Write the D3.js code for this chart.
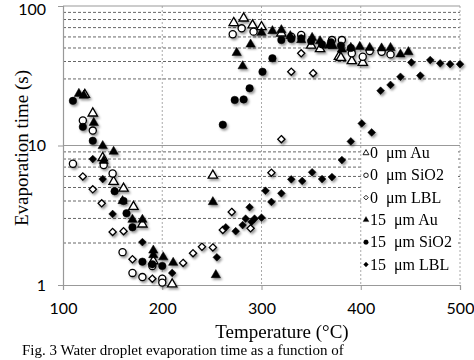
<!DOCTYPE html>
<html><head><meta charset="utf-8">
<script src="https://cdn.jsdelivr.net/npm/d3@7"></script>
<style>body{margin:0;background:#fff} svg{display:block}</style>
</head><body><svg id="c" width="474" height="360"></svg>
<script>
const xTicks=[100,200,300,400,500];
const yTicks=[1,10,100];
const minorGrid=[2,3,4,5,6,7,8,9,30,40,50,60,70,80,90];
const seriesNames=["0  μm Au","0  μm SiO2","0  μm LBL","15  μm Au","15  μm SiO2","15  μm LBL"];
// [temperature °C, evaporation time s]
const au0=[[122,23.5],[130,17.3],[140,8.3],[151,5.6],[161,5.0],[171,3.7],[180,2.77],[191,1.51],[210,1.03],[251,6.2],[272,77],[282,83],[291,74],[300,72],[320,64.8],[350,53],[359,50],[378,44],[380,43.3],[391,41],[402,39.9]];
const sio0=[[110,7.4],[120,15.1],[130,12.8],[141,7.25],[150,6.3],[160,1.72],[170,1.22],[180,1.14],[190,1.37],[200,1.11],[200,1.04],[271,62.7],[280,69.2],[292,65.5],[330,60.2],[340,62],[371,57],[381,57],[391,45.8],[402,43.3],[409,47.6],[421,47],[430,45]];
const lbl0=[[120,6.0],[130,4.85],[139,3.85],[150,2.4],[161,2.43],[170,1.53],[190,1.11],[221,1.44],[231,1.69],[240,1.88],[251,1.86],[261,2.48],[270,3.34],[289,2.55],[310,6.38],[320,11.1],[330,33.8],[340,45.8],[352,33]];
const au15=[[116,23.9],[121,23.2],[131,14.8],[140,10.1],[141,7.9],[151,9.2],[160,4.07],[170,2.99],[180,2.99],[191,1.8],[191,1.67],[201,1.61],[211,1.47],[251,4.0],[254,1.2],[275,47],[281,37.7],[289,54],[300,65.5],[311,67.3],[320,68.4],[329,62],[340,58],[351,60.2],[359,57],[368,53],[372,52.5],[381,49.7],[390,51.1],[399,51.9],[409,51],[421,50.6],[430,51],[440,45.8],[448,47.6]];
const sio15=[[110,20.9],[120,13.6],[130,10.8],[152,4.7],[161,4.0],[164,3.27],[170,2.59],[180,1.47],[190,1.41],[200,1.37],[261,14.1],[273,21.2],[282,21.4],[288,25.7],[301,33.8],[311,42.2],[320,57],[330,58],[340,58.6],[350,56],[361,53],[370,55],[380,52],[390,50]];
const lbl15=[[130,8.0],[140,5.75],[150,3.23],[180,2.03],[210,1.22],[255,1.58],[264,2.59],[274,2.43],[281,2.69],[284,2.99],[288,3.61],[290,2.84],[293,2.99],[300,3.04],[304,4.74],[310,3.94],[320,4.54],[330,5.72],[341,5.57],[351,6.43],[361,5.75],[371,5.94],[381,7.87],[390,10.7],[401,14.4],[411,12.4],[420,24.7],[430,27.2],[440,31.1],[451,39.4],[460,31.7],[470,41],[480,38.8],[490,38.3],[500,38.3]];

const svg=d3.select("#c");
const x=d3.scaleLinear().domain([100,500]).range([63,460]);
const y=d3.scaleLog().domain([1,100]).range([285,6]);

const defs=svg.append("defs");
const f=defs.append("filter").attr("id","sh").attr("x","-50%").attr("y","-50%").attr("width","200%").attr("height","200%");
f.append("feDropShadow").attr("dx",1.5).attr("dy",2).attr("stdDeviation",1.1).attr("flood-color","#000").attr("flood-opacity",0.4);

const serif="'Liberation Serif', 'Times New Roman', serif";
// minor horizontal grid
svg.append("g").selectAll("line").data(minorGrid).join("line")
  .attr("x1",x(100)).attr("x2",x(500)).attr("y1",d=>y(d)).attr("y2",d=>y(d))
  .attr("stroke","#666").attr("stroke-width",1).attr("stroke-dasharray","3,2");
// vertical grid
svg.append("g").selectAll("line").data(xTicks.slice(1)).join("line")
  .attr("x1",d=>x(d)).attr("x2",d=>x(d)).attr("y1",y(100)).attr("y2",y(1))
  .attr("stroke","#aaa").attr("stroke-width",1).attr("stroke-dasharray","2,2");
// major horizontal
svg.append("g").selectAll("line").data([10,100]).join("line")
  .attr("x1",x(100)).attr("x2",x(500)).attr("y1",d=>y(d)).attr("y2",d=>y(d))
  .attr("stroke","#999").attr("stroke-width",1.2);

const fontNum="Lato, 'Open Sans', sans-serif";
const yAxis=svg.append("g").attr("transform",`translate(${x(100)},0)`)
  .call(d3.axisLeft(y).tickValues(yTicks).tickFormat(d3.format("d")).tickSize(5).tickPadding(12));
const xAxis=svg.append("g").attr("transform",`translate(0,${y(1)})`)
  .call(d3.axisBottom(x).tickValues(xTicks).tickFormat(d3.format("d")).tickSize(5).tickPadding(13));
[yAxis,xAxis].forEach(a=>{
  a.select(".domain").attr("stroke","#999").attr("stroke-width",1.2);
  a.selectAll(".tick line").attr("stroke","#999");
  a.selectAll("text").attr("font-family",fontNum).attr("font-size",16).attr("fill","#000");
});
yAxis.selectAll("text").filter(d=>d===100).attr("dy","0.55em");

// markers
const diamond={draw(ctx,size){const r=Math.sqrt(size/2);ctx.moveTo(0,-r);ctx.lineTo(r,0);ctx.lineTo(0,r);ctx.lineTo(-r,0);ctx.closePath();}};
const styles=[
  {data:au0,type:d3.symbolTriangle,size:38,fill:"#fff"},
  {data:sio0,type:d3.symbolCircle,size:40,fill:"#fff"},
  {data:lbl0,type:diamond,size:26,fill:"#fff"},
  {data:au15,type:d3.symbolTriangle,size:38,fill:"#000"},
  {data:sio15,type:d3.symbolCircle,size:44,fill:"#000"},
  {data:lbl15,type:diamond,size:30,fill:"#000"}
];
const pts=svg.append("g").attr("filter","url(#sh)");
styles.forEach(s=>{
  const sym=d3.symbol().type(s.type).size(s.size);
  pts.append("g").selectAll("path").data(s.data).join("path")
    .attr("transform",d=>`translate(${x(d[0])},${y(d[1])+(s.type===d3.symbolTriangle?1:0)})`)
    .attr("d",sym).attr("fill",s.fill).attr("stroke","#000").attr("stroke-width",s.fill==="#fff"?1.3:0.5);
});

// legend
const lg=svg.append("g");
lg.append("rect").attr("x",362).attr("y",146).attr("width",96).attr("height",136).attr("fill","#fff");
seriesNames.forEach((n,i)=>{
  const cy=153+i*22.3;
  const s=styles[i];
  lg.append("path").attr("transform",`translate(366,${cy})`)
    .attr("d",d3.symbol().type(s.type).size(s.size*0.4)()).attr("fill",s.fill).attr("stroke","#000").attr("stroke-width",s.fill==="#fff"?0.9:0.3);
  lg.append("text").attr("x",370).attr("y",cy+5).attr("font-family",serif)
    .attr("font-size",16).style("white-space","pre").text(n);
});

// titles
svg.append("text").attr("x",282).attr("y",338).attr("text-anchor","middle")
  .attr("font-family",serif).attr("font-size",19).text("Temperature (°C)");
svg.append("text").attr("transform","translate(28,148) rotate(-90)").attr("text-anchor","middle")
  .attr("font-family",serif).attr("font-size",19).text("Evaporation time (s)");
svg.append("text").attr("x",22).attr("y",355)
  .attr("font-family",serif).attr("font-size",15).text("Fig. 3 Water droplet evaporation time as a function of");
</script></body></html>
